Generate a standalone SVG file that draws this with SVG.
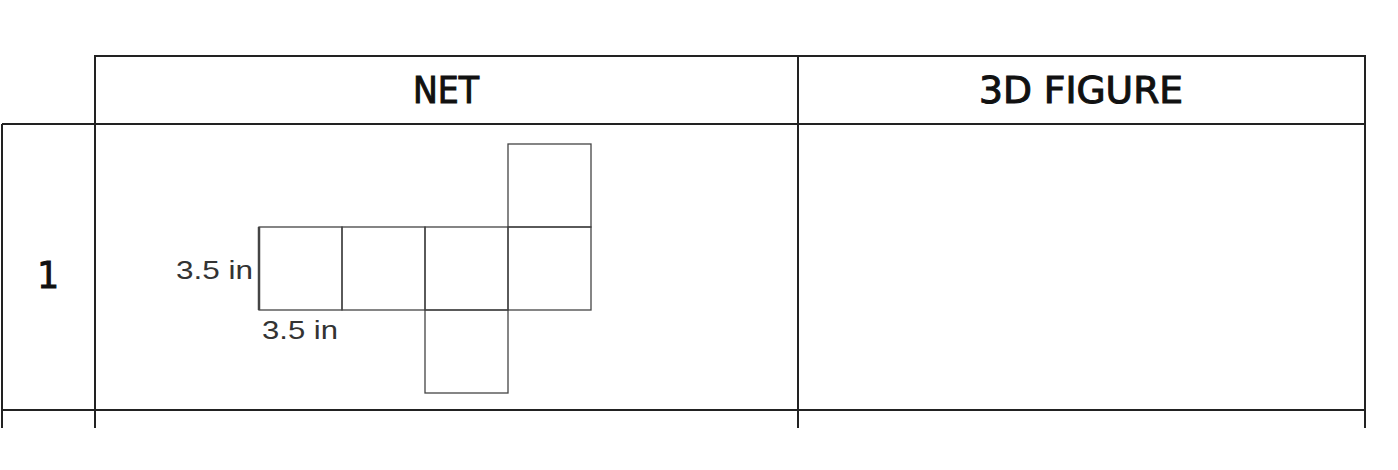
<svg xmlns="http://www.w3.org/2000/svg" width="1398" height="470" viewBox="0 0 1398 470">
<style>
.g{stroke:#222;stroke-width:2;fill:none}
.n{stroke:#444;stroke-width:1.3;fill:none}
.h{font-family:"DejaVu Sans Condensed","Liberation Sans",sans-serif;font-size:38px;fill:#111;stroke:#111;stroke-width:1;text-anchor:middle}
.l{font-family:"Liberation Sans",sans-serif;font-size:26px;fill:#333}
</style>
<rect width="1398" height="470" fill="#fff"/>
<g id="grid" class="g">
<line x1="95" y1="56" x2="1365" y2="56"/>
<line x1="2" y1="124" x2="1365" y2="124"/>
<line x1="2" y1="410" x2="1365" y2="410"/>
<line x1="2" y1="124" x2="2" y2="428"/>
<line x1="95" y1="55" x2="95" y2="428"/>
<line x1="798" y1="55" x2="798" y2="428"/>
<line x1="1365" y1="55" x2="1365" y2="428"/>
</g>
<g id="headers">
<text class="h" x="446" y="103" textLength="66" lengthAdjust="spacingAndGlyphs">NET</text>
<text class="h" x="1081" y="103" textLength="204" lengthAdjust="spacingAndGlyphs">3D FIGURE</text>
<text class="h" x="48" y="288" stroke-width="2">1</text>
</g>
<g id="net" class="n">
<rect x="259" y="227" width="83" height="83"/>
<rect x="342" y="227" width="83" height="83"/>
<rect x="425" y="227" width="83" height="83"/>
<rect x="508" y="227" width="83" height="83"/>
<rect x="508" y="144" width="83" height="83"/>
<rect x="425" y="310" width="83" height="83"/>
<line x1="259" y1="227" x2="259" y2="310" stroke-width="2.5"/>
</g>
<g id="labels">
<text class="l" x="176" y="279" textLength="77" lengthAdjust="spacingAndGlyphs">3.5 in</text>
<text class="l" x="262" y="339" textLength="76" lengthAdjust="spacingAndGlyphs">3.5 in</text>
</g>
</svg>
